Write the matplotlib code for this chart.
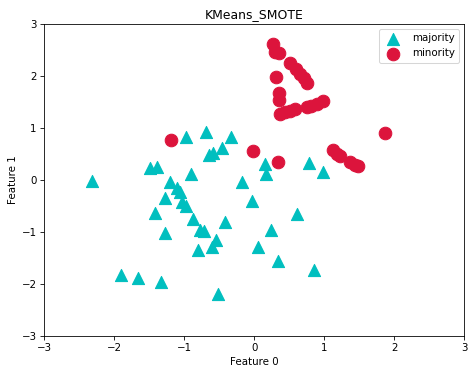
import matplotlib
matplotlib.use("Agg")
import matplotlib.pyplot as plt

# majority class points (Feature 0, Feature 1)
maj_x = [-2.31, -1.49, -1.39, -0.90, -1.20, -1.10, -1.06, -1.27, -1.03, -0.97,
         -1.42, -0.87, -0.77, -0.71, -0.42, -1.27, -0.54, -0.60, -0.80, -0.17,
         -0.03, 0.06, -1.90, -1.66, -1.33, -0.52, 0.16, 0.17, 0.79, 0.98,
         0.62, 0.24, 0.34, 0.85, -0.97, -0.68, -0.33, -0.46, -0.65, -0.59]
maj_y = [-0.01, 0.24, 0.26, 0.11, -0.03, -0.16, -0.22, -0.34, -0.42, -0.50,
         -0.63, -0.74, -0.96, -0.97, -0.80, -1.01, -1.15, -1.29, -1.35, -0.03,
         -0.40, -1.28, -1.83, -1.89, -1.96, -2.19, 0.31, 0.12, 0.32, 0.15,
         -0.65, -0.96, -1.56, -1.73, 0.82, 0.93, 0.82, 0.61, 0.48, 0.53]

# minority class points (original + synthetic)
min_x = [-1.18, -0.02, 0.27, 0.30, 0.36, 0.31, 0.51, 0.60, 0.66, 0.72,
         0.76, 0.35, 0.36, 0.37, 0.44, 0.51, 0.59, 0.75, 0.82, 0.90,
         0.99, 1.87, 0.34, 1.13, 1.18, 1.23, 1.37, 1.44, 1.49]
min_y = [0.77, 0.55, 2.62, 2.47, 2.44, 1.99, 2.25, 2.14, 2.04, 1.96,
         1.87, 1.67, 1.54, 1.28, 1.31, 1.33, 1.36, 1.41, 1.42, 1.47,
         1.52, 0.91, 0.35, 0.58, 0.51, 0.46, 0.35, 0.29, 0.27]

dpi = 74
fig = plt.figure(figsize=(474 / dpi, 376 / dpi), dpi=dpi)
ax = fig.add_axes([0.093, 0.106, 0.886, 0.830])

ax.scatter(maj_x, maj_y, marker='^', s=140, c='c', label='majority')
ax.scatter(min_x, min_y, marker='o', s=150, c='crimson', label='minority')

ax.set_xlim(-3, 3)
ax.set_ylim(-3, 3)
ax.set_xticks(range(-3, 4))
ax.set_yticks(range(-3, 4))
ax.set_title("KMeans_SMOTE")
ax.set_xlabel("Feature 0")
ax.set_ylabel("Feature 1")
ax.legend(loc='upper right')

fig.savefig("out.png", dpi=dpi)
